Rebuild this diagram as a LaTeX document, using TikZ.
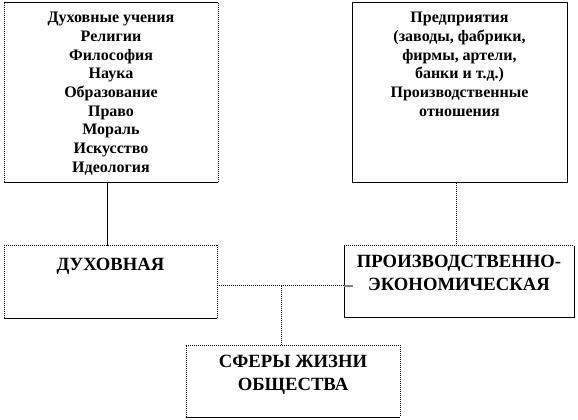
\documentclass[tikz,border=0pt]{standalone}
\usepackage{fontspec}
\setmainfont{Liberation Serif}
\newcommand{\spheretext}[4]{\parbox[c][#1][t]{#2}{\centering\vspace*{#3}\strut #4}}
\tikzset{
    sphere/.style={inner sep=0pt, outer sep=0pt, anchor=north west},
    small/.style={font=\fontsize{12}{14}\selectfont\bfseries},
    large/.style={font=\fontsize{14}{17.5}\selectfont\bfseries},
    dots/.style={dash pattern=on 0.75pt off 0.75pt, line width=0.75pt},
    solidline/.style={line width=0.75pt}
}
\begin{document}
\begin{tikzpicture}[x=0.75pt, y=-0.75pt]
    \useasboundingbox (0,0) rectangle (578,420);
    \node [sphere, small] (teach) at (4,3) {\spheretext{135pt}{160.5pt}{5pt}{Духовные учения\\Религии\\Философия\\Наука\\Образование\\Право\\Мораль\\Искусство\\Идеология}};
    \node [sphere, small] (firms) at (352,3) {\spheretext{135pt}{161.25pt}{5pt}{Предприятия\\(заводы, фабрики,\\фирмы, артели,\\банки и т.д.)\\Производственные\\отношения}};
    \node [sphere, large] (spirit) at (4,246) {\spheretext{54pt}{159.75pt}{6pt}{ДУХОВНАЯ}};
    \node [sphere, large] (econ) at (344,246) {\spheretext{53.25pt}{172.5pt}{3.5pt}{ПРОИЗВОДСТВЕННО-\\ЭКОНОМИЧЕСКАЯ}};
    \node [sphere, large] (life) at (186,345) {\spheretext{54pt}{160.5pt}{4.5pt}{СФЕРЫ ЖИЗНИ\\ОБЩЕСТВА}};
    \coordinate (join) at (281,286);
    % frames
    \draw [dots] (teach.north west) -- (teach.south west);
    \draw [dots] (teach.north east) -- (teach.south east);
    \draw [solidline] (teach.north west) -- (teach.north east);
    \draw [solidline] (teach.south west) -- (teach.south east);
    \draw [solidline] (firms.north west) rectangle (firms.south east);
    \draw [dots] (spirit.south west) |- (spirit.north east) -- (spirit.south east);
    \draw [solidline] (spirit.south west) -- (spirit.south east);
    \draw [dots] (econ.north west) -- (econ.north east);
    \draw [solidline] (econ.north west) |- (econ.south east) -- (econ.north east);
    \draw [dots] (life.south west) |- (life.north east) -- (life.south east);
    \draw [solidline] (life.south west) -- (life.south east);
    % links
    \draw [solidline] ([xshift=-3pt]teach.south) -- ([xshift=-3pt]teach.south |- spirit.north);
    \draw [dots] ([xshift=-2.5pt]firms.south) -- ([xshift=-2.5pt]firms.south |- econ.north);
    \draw [dots] (spirit.east |- join) -- (econ.west |- join);
    \draw [gray, line width=1.5pt] (econ.west |- join) -- ++(9,0);
    \draw [dots] (join) -- (join |- life.north);
\end{tikzpicture}
\end{document}
